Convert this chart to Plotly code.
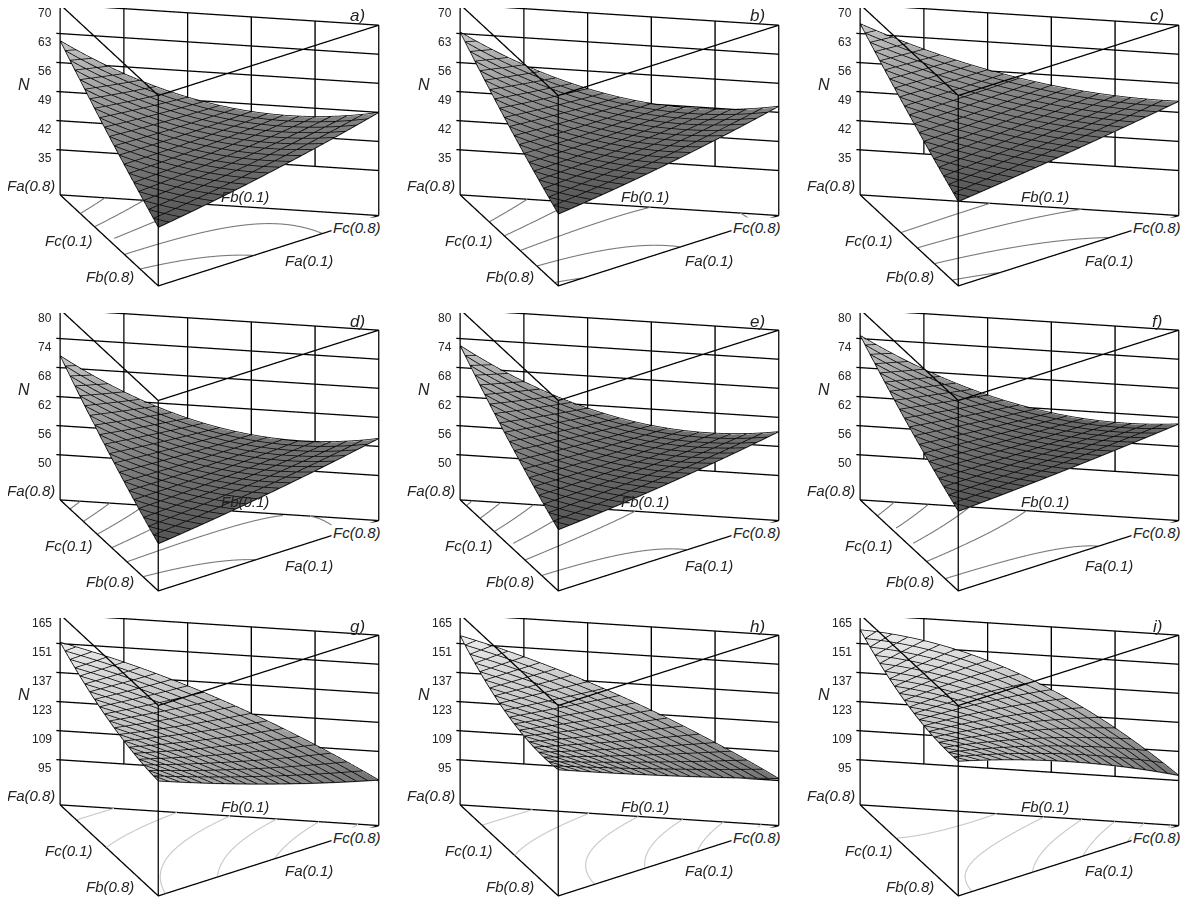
import numpy as np
import plotly.graph_objects as go

# one label per ternary response surface
panel_labels = ["a)", "b)", "c)", "d)", "e)", "f)", "g)", "h)", "i)"]

# N read at the corner blends Fa(0.8), Fb(0.8), Fc(0.8)
n_fa = [61.1, 63.2, 65.2, 70.3, 72.4, 74.5, 151.3, 154.5, 157.3]
n_fb = [38.1, 41.3, 44.3, 50.3, 53.2, 57.0, 128.3, 133.7, 137.8]
n_fc = [48.8, 50.3, 51.5, 57.5, 58.9, 60.5, 94.9, 95.6, 97.1]
# N read at the 50/50 binary blends
n_ab = [49.0, 51.4, 54.2, 59.5, 62.0, 65.0, 135.3, 137.1, 142.0]
n_bc = [42.7, 45.0, 47.6, 53.4, 55.5, 58.5, 109.9, 113.9, 120.7]
n_ac = [48.0, 50.0, 54.6, 57.6, 59.6, 62.3, 128.9, 130.6, 141.0]

# N axis ticks for each row of panels
z_ticks = [
    [35, 42, 49, 56, 63, 70],
    [50, 56, 62, 68, 74, 80],
    [95, 109, 123, 137, 151, 165],
]
# contour levels on the floor, per row
floor_levels = [
    [42, 45.5, 49, 52.5, 56],
    [53, 56, 59, 62, 65, 68, 71],
    [100, 109, 118, 127, 136, 145],
]

FONT = "Liberation Sans, Arial, sans-serif"
SQ = np.sqrt(3) / 2
H = 0.61          # box height relative to the triangle side
S = 2.14          # scene aspect units per triangle side
NGRID = 36        # surface resolution
NMESH = 20        # wire lines on the surface


def to_xy(p1, p2, p3):
    # Fa corner at left back, Fb in front, Fc at right back
    return 0.5 * p2 + p3, -SQ * p2


def response(k, p1, p2, p3):
    a, b, c = n_fa[k], n_fb[k], n_fc[k]
    bab = 4 * (n_ab[k] - (a + b) / 2)
    bbc = 4 * (n_bc[k] - (b + c) / 2)
    bac = 4 * (n_ac[k] - (a + c) / 2)
    return a * p1 + b * p2 + c * p3 + bab * p1 * p2 + bbc * p2 * p3 + bac * p1 * p3


# triangular grid over the simplex
idx = {}
P1, P3 = [], []
for i in range(NGRID + 1):
    for j in range(NGRID + 1 - i):
        idx[(i, j)] = len(P1)
        P1.append(i / NGRID)
        P3.append(j / NGRID)
P1 = np.array(P1)
P3 = np.array(P3)
P2 = 1 - P1 - P3
tris = []
for i in range(NGRID):
    for j in range(NGRID - i):
        tris.append((idx[(i, j)], idx[(i + 1, j)], idx[(i, j + 1)]))
        if i + j < NGRID - 1:
            tris.append((idx[(i + 1, j)], idx[(i + 1, j + 1)], idx[(i, j + 1)]))
tris = np.array(tris)
GX, GY = to_xy(P1, P2, P3)


def contour_segments(vals, level):
    v = vals[tris]
    px = GX[tris]
    py = GY[tris]
    pts = []
    for a, b in [(0, 1), (1, 2), (2, 0)]:
        va, vb = v[:, a], v[:, b]
        cross = (va - level) * (vb - level) < 0
        t = np.where(cross, (level - va) / np.where(cross, vb - va, 1), 0)
        pts.append((cross, px[:, a] + t * (px[:, b] - px[:, a]), py[:, a] + t * (py[:, b] - py[:, a])))
    xs, ys = [], []
    for n in range(len(tris)):
        hit = [(p[1][n], p[2][n]) for p in pts if p[0][n]]
        if len(hit) == 2:
            xs += [hit[0][0], hit[1][0], None]
            ys += [hit[0][1], hit[1][1], None]
    return xs, ys


def add_line(xs, ys, zs, pts):
    for p in pts:
        xs.append(p[0])
        ys.append(p[1])
        zs.append(p[2])
    xs.append(None)
    ys.append(None)
    zs.append(None)


fig = go.Figure()
alpha = np.radians(12.5)
elev = np.radians(17.0)
dist = 2.0

for k in range(9):
    row, col = divmod(k, 3)
    sid = "scene" if k == 0 else "scene%d" % (k + 1)
    ticks = z_ticks[row]
    step = ticks[1] - ticks[0]
    ztop = ticks[-1]
    zfloor = ticks[0] - 1.55 * step
    zspan = ztop - zfloor
    light = row == 2

    # surface
    zs = response(k, P1, P2, P3)
    fig.add_trace(go.Mesh3d(
        x=GX, y=GY, z=zs, i=tris[:, 0], j=tris[:, 1], k=tris[:, 2],
        intensity=zs, cmin=zs.min(), cmax=zs.max(),
        colorscale=[[0, "#707070"], [1, "#ececec"]] if light else [[0, "#545454"], [1, "#c6c6c6"]],
        showscale=False, flatshading=False,
        lighting=dict(ambient=1.0, diffuse=0.0, specular=0.0, fresnel=0.0),
        hoverinfo="skip", scene=sid,
    ))

    # wire lines of constant Fa and constant Fb, plus the Fc(0.1) edge
    lift = 0.004 * zspan
    wx, wy, wz = [], [], []
    s = np.linspace(0, 1, 25)
    for m in range(NMESH):
        f = m / NMESH
        fixed = np.full_like(s, f)
        for p1, p2 in [(fixed, (1 - s) * (1 - f)), (s * (1 - f), fixed)]:
            p3 = 1 - p1 - p2
            x, y = to_xy(p1, p2, p3)
            add_line(wx, wy, wz, zip(x, y, response(k, p1, p2, p3) + lift))
    p1 = 1 - s
    p2 = s
    p3 = np.zeros_like(s)
    x, y = to_xy(p1, p2, p3)
    add_line(wx, wy, wz, zip(x, y, response(k, p1, p2, p3) + lift))
    fig.add_trace(go.Scatter3d(
        x=wx, y=wy, z=wz, mode="lines", line=dict(color="#0a0a0a", width=1.6),
        hoverinfo="skip", showlegend=False, scene=sid,
    ))

    # contours on the floor
    cx, cy = [], []
    for lev in floor_levels[row]:
        a, b = contour_segments(zs, lev)
        cx += a
        cy += b
    fig.add_trace(go.Scatter3d(
        x=cx, y=cy, z=[zfloor if c is not None else None for c in cx], mode="lines",
        line=dict(color="#c8c8c8" if light else "#7a7a7a", width=2.2),
        hoverinfo="skip", showlegend=False, scene=sid,
    ))

    # prism frame and back wall grid
    A = (0.0, 0.0)
    B = (0.5, -SQ)
    C = (1.0, 0.0)
    fx, fy, fz = [], [], []
    for V in (A, B, C):
        add_line(fx, fy, fz, [(V[0], V[1], zfloor), (V[0], V[1], ztop)])
    for z in (zfloor, ztop):
        add_line(fx, fy, fz, [(A[0], A[1], z), (B[0], B[1], z), (C[0], C[1], z), (A[0], A[1], z)])
    for t in ticks[:-1]:
        add_line(fx, fy, fz, [(0, 0, t), (1, 0, t)])
    for t in ticks:
        add_line(fx, fy, fz, [(-0.012, 0, t), (0, 0, t)])
    for g in (0.2, 0.4, 0.6, 0.8):
        add_line(fx, fy, fz, [(g, 0, ticks[0]), (g, 0, ztop)])
    fig.add_trace(go.Scatter3d(
        x=fx, y=fy, z=fz, mode="lines", line=dict(color="#000000", width=2.6),
        hoverinfo="skip", showlegend=False, scene=sid,
    ))

    # labels
    ann = []
    for t in ticks:
        ann.append(dict(x=0, y=0, z=t, text=str(t), showarrow=False, xanchor="right",
                        yanchor="middle", xshift=-6, yshift=-8, font=dict(size=12, color="#222")))
    ital = dict(size=15, color="#222")
    ann.append(dict(x=0, y=0, z=ztop - 2.75 * step, text="<i>N</i>", showarrow=False,
                    xanchor="right", xshift=-28, font=dict(size=16, color="#222")))
    ann.append(dict(x=0, y=0, z=zfloor, text="<i>Fa(0.8)</i>", showarrow=False,
                    xanchor="right", xshift=-3, yshift=9, font=ital))
    ann.append(dict(x=0.25, y=-SQ / 2, z=zfloor, text="<i>Fc(0.1)</i>", showarrow=False,
                    xanchor="right", xshift=-14, yshift=0, font=ital))
    ann.append(dict(x=0.5, y=-SQ, z=zfloor, text="<i>Fb(0.8)</i>", showarrow=False,
                    xanchor="right", xshift=-22, yshift=9, font=ital))
    ann.append(dict(x=0.75, y=-SQ / 2, z=zfloor, text="<i>Fa(0.1)</i>", showarrow=False,
                    xanchor="left", xshift=14, yshift=-10, font=ital))
    ann.append(dict(x=1, y=0, z=zfloor, text="<i>Fc(0.8)</i>", showarrow=False,
                    xanchor="right", xshift=4, yshift=-12, bgcolor="white", font=ital))
    ann.append(dict(x=0.5, y=0, z=zfloor, text="<i>Fb(0.1)</i>", showarrow=False,
                    xanchor="center", xshift=26, yshift=9, font=ital))

    # axis ranges padded so that the box centre lands where the panel wants it
    xr = [-0.05, 1.02 + 0.15]
    yr = [-SQ - 0.02, 0.02]
    zpad = 0.01 * zspan
    zr = [zfloor - zpad - 0.057 * zspan / H, ztop + zpad]
    eye = dict(x=dist * np.cos(elev) * np.sin(alpha),
               y=-dist * np.cos(elev) * np.cos(alpha),
               z=dist * np.sin(elev))
    fig.update_layout({sid: dict(
        domain=dict(x=[col / 3, (col + 1) / 3], y=[1 - (row + 1) / 3, 1 - row / 3]),
        xaxis=dict(visible=False, range=xr),
        yaxis=dict(visible=False, range=yr),
        zaxis=dict(visible=False, range=zr),
        aspectmode="manual",
        aspectratio=dict(x=S * (xr[1] - xr[0]), y=S * (yr[1] - yr[0]),
                         z=S * H * (zr[1] - zr[0]) / zspan),
        camera=dict(eye=eye, center=dict(x=0, y=0, z=0), up=dict(x=0, y=0, z=1),
                    projection=dict(type="orthographic")),
        bgcolor="white",
        annotations=ann,
    )})

    fig.add_annotation(x=(col * 400 + 349) / 1200, y=1 - (row * 305 + 8) / 915,
                       xref="paper", yref="paper", xanchor="center", yanchor="middle",
                       text="<i>%s</i>" % panel_labels[k],
                       showarrow=False, font=dict(size=17, color="#222"))

fig.update_layout(
    width=1200, height=915, margin=dict(l=0, r=0, t=0, b=0),
    paper_bgcolor="white", showlegend=False, hovermode=False,
    font=dict(family=FONT),
)

fig.write_html("out.html")
